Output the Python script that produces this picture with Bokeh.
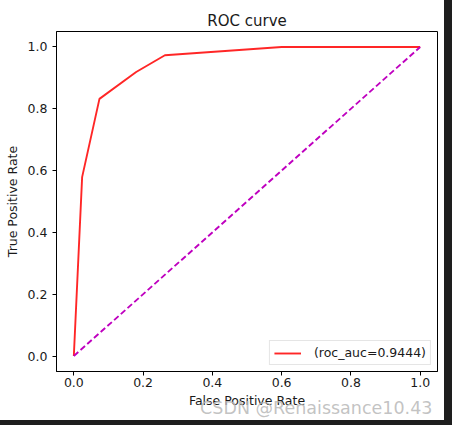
from bokeh.plotting import figure
from bokeh.models import Range1d, FixedTicker, PrintfTickFormatter, Legend, LegendItem, LinearAxis
from bokeh.embed import file_html
from bokeh.resources import INLINE

# ROC points
fpr = [0.0, 0.024, 0.074, 0.18, 0.263, 0.60, 1.0]
tpr = [0.0, 0.579, 0.832, 0.919, 0.973, 1.0, 1.0]
diag_x = [0.0, 1.0]
diag_y = [0.0, 1.0]
ticks = [0.0, 0.2, 0.4, 0.6, 0.8, 1.0]
auc_label = "(roc_auc=0.9444)"
watermark = "CSDN @Renaissance10.43"
watermark_at = 0.70

FONT = "DejaVu Sans"
INK = "#1a1a1a"

p = figure(frame_width=381, frame_height=340, output_backend="svg", toolbar_location=None,
           x_range=Range1d(-0.05, 1.05), y_range=Range1d(-0.05, 1.05),
           min_border_left=56, min_border_right=7, min_border_top=31, min_border_bottom=46)
# dark notebook frame around the white figure
p.styles = {"box-shadow": "0 0 0 8px #1e1e1e"}
p.title.text = "ROC curve"
p.title.align = "center"
p.title.text_font = FONT
p.title.text_font_size = "15px"
p.title.text_font_style = "normal"
p.title.text_color = INK
p.title.standoff = 4

p.grid.visible = False
p.outline_line_color = "black"
p.outline_line_alpha = 1
p.outline_line_width = 1

for ax in (p.xaxis[0], p.yaxis[0]):
    ax.ticker = FixedTicker(ticks=ticks)
    ax.formatter = PrintfTickFormatter(format="%.1f")
    ax.minor_tick_line_color = None
    ax.major_tick_out = 4
    ax.major_tick_in = 0
    ax.major_label_text_font = FONT
    ax.major_label_text_font_size = "12.5px"
    ax.major_label_text_color = INK
    ax.axis_label_text_font = FONT
    ax.axis_label_text_font_size = "12.5px"
    ax.axis_label_text_font_style = "normal"
    ax.axis_label_text_color = INK
    ax.axis_line_color = "black"
    ax.major_tick_line_color = "black"
p.xaxis.axis_label = "False Positive Rate"
p.yaxis.axis_label = "True Positive Rate"
p.xaxis.major_label_standoff = 2
p.xaxis.axis_label_standoff = 3
p.yaxis.major_label_standoff = 5
p.yaxis.axis_label_standoff = 5
p.yaxis.major_label_orientation = "horizontal"

roc = p.line(fpr, tpr, line_color="red", line_alpha=0.85, line_width=1.9)
p.line(diag_x, diag_y, line_color="#bf00bf", line_width=1.9, line_dash="6 3")

legend = Legend(items=[LegendItem(label=auc_label, renderers=[roc])], location="bottom_right",
                margin=6, padding=4, spacing=0, glyph_width=27, glyph_height=14,
                label_height=14, label_standoff=13,
                label_text_font=FONT, label_text_font_size="12.5px", label_text_color=INK,
                border_line_color="#cccccc", border_line_width=1,
                background_fill_alpha=0.8)
p.add_layout(legend, "center")

# watermark: one tick label on an empty axis below the real one, pulled up over the x label
mark = LinearAxis(ticker=FixedTicker(ticks=[watermark_at]),
                  major_label_overrides={watermark_at: watermark},
                  axis_line_color=None, major_tick_line_color=None, minor_tick_line_color=None,
                  major_tick_out=0, major_tick_in=0, major_label_standoff=-13,
                  major_label_text_font=FONT, major_label_text_font_size="17.5px",
                  major_label_text_color="#b8b8b8", major_label_text_alpha=0.85)
p.add_layout(mark, "below")

open("out.html", "w").write(file_html(p, INLINE))
